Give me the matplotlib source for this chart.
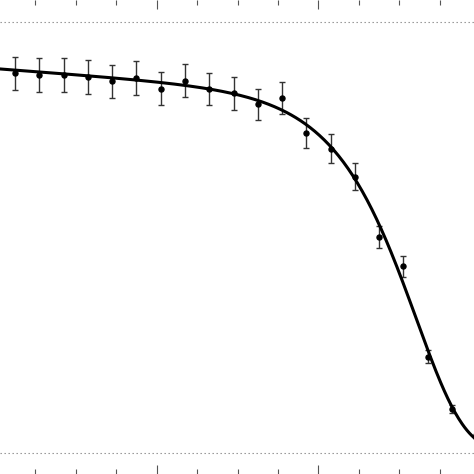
import numpy as np
import matplotlib
matplotlib.use("Agg")
import matplotlib.pyplot as plt
from matplotlib.ticker import MultipleLocator

# measured points (x, normalised signal, error)
x_pts = [-3.5, -2.9, -2.3, -1.7, -1.1, -0.5, 0.1, 0.7, 1.3, 1.9,
         2.5, 3.1, 3.7, 4.3, 4.9, 5.5, 6.1, 6.7, 7.3, 7.9]
y_pts = [0.881, 0.877, 0.877, 0.872, 0.862, 0.870, 0.845, 0.864, 0.844, 0.834,
         0.809, 0.824, 0.742, 0.706, 0.641, 0.501, 0.433, 0.223, 0.101, 0.038]
y_err = [0.038, 0.039, 0.039, 0.039, 0.039, 0.039, 0.038, 0.038, 0.037, 0.038,
         0.036, 0.037, 0.034, 0.034, 0.031, 0.026, 0.024, 0.015, 0.009, 0.005]

# fitted curve: Gompertz-type step with a sloping upper baseline
fit_top = 0.864
fit_slope = -0.0070
fit_bottom = 0.0055
fit_centre = 6.445
fit_width = 1.173

x_min, x_max = -3.876, 7.848
y_min, y_max = -0.0495, 1.0511


def fit_curve(x):
    step = np.exp(-np.exp((x - fit_centre) / fit_width))
    return fit_bottom + (fit_top + fit_slope * x - fit_bottom) * step


fig = plt.figure(figsize=(4.74, 4.74), dpi=100)
ax = fig.add_axes([0, 0, 1, 1])

# reference levels
for level in (0.0, 1.0):
    ax.axhline(level, color="#8a8a8a", lw=0.8, ls=(0, (1.2, 2.4)), zorder=1)

ax.errorbar(x_pts, y_pts, yerr=y_err, fmt="none", ecolor="#333333",
            elinewidth=1.0, capsize=2.5, capthick=1.0, zorder=2)

xx = np.linspace(x_min, x_max, 400)
ax.plot(xx, fit_curve(xx), color="black", lw=2.2, zorder=3)

ax.plot(x_pts, y_pts, "o", color="black", ms=3.6, zorder=4)

ax.set_xlim(x_min, x_max)
ax.set_ylim(y_min, y_max)

for side in ("left", "right", "top", "bottom"):
    ax.spines[side].set_visible(False)

ax.xaxis.set_major_locator(MultipleLocator(4))
ax.xaxis.set_minor_locator(MultipleLocator(1))
ax.tick_params(axis="x", which="both", direction="in", top=True, bottom=True,
               labelbottom=False, labeltop=False, color="#555555", width=0.8)
ax.tick_params(axis="x", which="major", length=6.5)
ax.tick_params(axis="x", which="minor", length=3.6)
ax.tick_params(axis="y", which="both", left=False, right=False, labelleft=False)

fig.savefig("out.png", dpi=100)
